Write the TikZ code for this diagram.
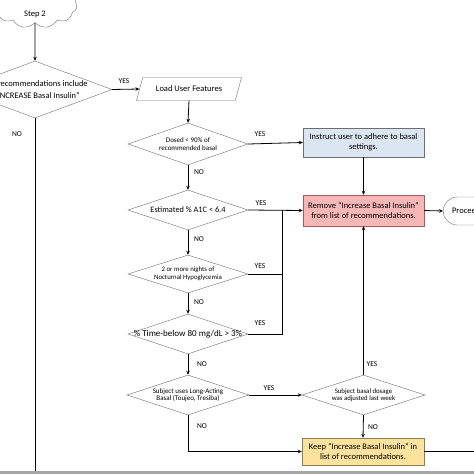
\documentclass[tikz,border=0pt]{standalone}
\usepackage{fontspec}
\setmainfont{Carlito}
\usepackage{xcolor}
\usepackage{tikz}
\usetikzlibrary{positioning, arrows.meta, shapes.geometric, shapes.symbols, shapes.misc}
\definecolor{bordegris}{HTML}{6E6E6E}
\definecolor{azulclaro}{HTML}{DCE6F2}
\definecolor{rosaclaro}{HTML}{F7B7B7}
\definecolor{bordero}{HTML}{A25C5C}
\definecolor{amarillo}{HTML}{FCE29C}
\definecolor{bordeam}{HTML}{8A7D58}
\definecolor{franja}{HTML}{A6A6A6}

\begin{document}
\begin{tikzpicture}[
    x=1pt, y=-1pt,
    every node/.style={font=\fontsize{8.5}{10.5}\selectfont},
    decision/.style={diamond, draw=bordegris, inner sep=0pt, minimum width=120pt, minimum height=40pt},
    dtext/.style={font=\fontsize{7}{8}\selectfont, align=center, inner sep=0pt},
    caja/.style={draw=bordegris, minimum width=121pt, minimum height=29pt, align=center, inner sep=1pt},
    etiq/.style={font=\fontsize{7.5}{9}\selectfont, inner sep=0pt},
    flecha/.style={-{Stealth[length=4pt, width=3.5pt]}, line width=0.8pt},
    linea/.style={line width=0.8pt}
]
\useasboundingbox (0,0) rectangle (474,474);
\clip (0,0) rectangle (474,474);

% start and first question
\node[cloud, draw=bordegris, cloud puffs=11, cloud puff arc=110, aspect=2, minimum width=84pt, minimum height=46pt,
    label={[font=\fontsize{8.5}{10}\selectfont, yshift=-9pt]center:Step 2}] (step) at (35,5) {};
\node[decision, minimum width=154pt, minimum height=57pt,
    label={[dtext, font=\fontsize{8.5}{12}\selectfont, xshift=2pt]center:Do recommendations include\\“INCREASE Basal Insulin”}] (recs) at (35,89.5) {};
\node[trapezium, draw=bordegris, trapezium left angle=52, trapezium right angle=128, trapezium stretches body,
    minimum width=105pt, minimum height=23pt, inner sep=1pt] (load) at (189,89) {Load User Features};

% checks on the user data
\node[decision, minimum height=42pt, label={[dtext]center:Dosed < 90\% of\\recommended basal}] (dosed) at (188,144) {};
\node[decision, label={[dtext, font=\fontsize{8.3}{9}\selectfont]center:Estimated \% A1C < 6.4}] (aonec) at (188,210) {};
\node[decision, minimum height=38pt, label={[dtext, font=\fontsize{6.8}{7.6}\selectfont]center:2 or more nights of\\Nocturnal Hypoglycemia}] (hypo) at (188,274) {};
\node[decision, label={[dtext, font=\fontsize{9}{10}\selectfont]center:\% Time-below 80 mg/dL > 3\%}] (tbelow) at (188,334) {};
\node[decision, minimum width=122pt, label={[dtext, font=\fontsize{7}{7.2}\selectfont]center:Subject uses Long-Acting\\Basal (Toujeo, Tresiba)}] (longact) at (188,395) {};
\node[decision, minimum width=123pt, label={[dtext, font=\fontsize{6.8}{6.8}\selectfont]center:Subject basal dosage\\was adjusted last week}] (adjusted) at (363.5,395) {};

% outcomes
\node[caja, fill=azulclaro] (instr) at (363.5,142.5) {Instruct user to adhere to basal\\settings.};
\node[caja, fill=rosaclaro, draw=bordero, minimum height=31pt] (remove) at (363.5,210.5) {Remove “Increase Basal Insulin”\\from list of recommendations.};
\node[caja, fill=amarillo, draw=bordeam, minimum width=122pt, minimum height=27pt] (keep) at (363,451.5) {Keep “Increase Basal Insulin” in\\list of recommendations.};
\node[rounded rectangle, draw=bordegris, minimum width=48pt, minimum height=28pt, anchor=west, inner sep=1pt] (proc) at (443,211) {Proceed};

\coordinate (jtop) at (282,210);
\coordinate (jmid) at (282,274);
\coordinate (jbot) at (282,334);
\coordinate (kout) at (480,451.5);
\coordinate (lbot) at (35,480);

% connectors
\draw[flecha] (step) -- (recs.north);
\draw[flecha] (recs.east) -- (load.west);
\draw[linea] (recs.south) -- (lbot);
\draw[flecha] (load.south) -- (dosed.north);
\draw[flecha] (dosed.east) -- (instr.west);
\draw[flecha] (instr.south) -- (remove.north);
\draw[flecha] (dosed.south) -- (aonec.north);
\draw[flecha] (aonec.east) -- (remove.west);
\draw[flecha] (aonec.south) -- (hypo.north);
\draw[linea] (hypo.east) -- (jmid);
\draw[flecha] (hypo.south) -- (tbelow.north);
\draw[linea] (tbelow.east) -- (jbot) -- (jtop);
\draw[flecha] (tbelow.south) -- (longact.north);
\draw[flecha] (longact.east) -- (adjusted.west);
\draw[flecha] (adjusted.north) -- (remove.south);
\draw[flecha] (adjusted.south) -- (keep.north);
\draw[flecha] (longact.south) |- (keep.west);
\draw[flecha] (remove.east) -- (proc.west);
\draw[linea] (keep.east) -- (kout);

% yes / no
\node[etiq] (y1) at (124,81) {YES};
\node[etiq] (n1) at (17,134) {NO};
\node[etiq] (y2) at (260,134) {YES};
\node[etiq] (n2) at (199,172) {NO};
\node[etiq] (y3) at (261,203) {YES};
\node[etiq] (n3) at (199,239) {NO};
\node[etiq] (y4) at (260,266) {YES};
\node[etiq] (n4) at (199,302) {NO};
\node[etiq] (y5) at (260,323) {YES};
\node[etiq] (n5) at (202,364) {NO};
\node[etiq] (y6) at (269,388) {YES};
\node[etiq] (y7) at (372,364) {YES};
\node[etiq] (n6) at (202,426) {NO};
\node[etiq] (n7) at (373,427) {NO};

\fill[franja] (0,471) rectangle (474,474);
\end{tikzpicture}
\end{document}
